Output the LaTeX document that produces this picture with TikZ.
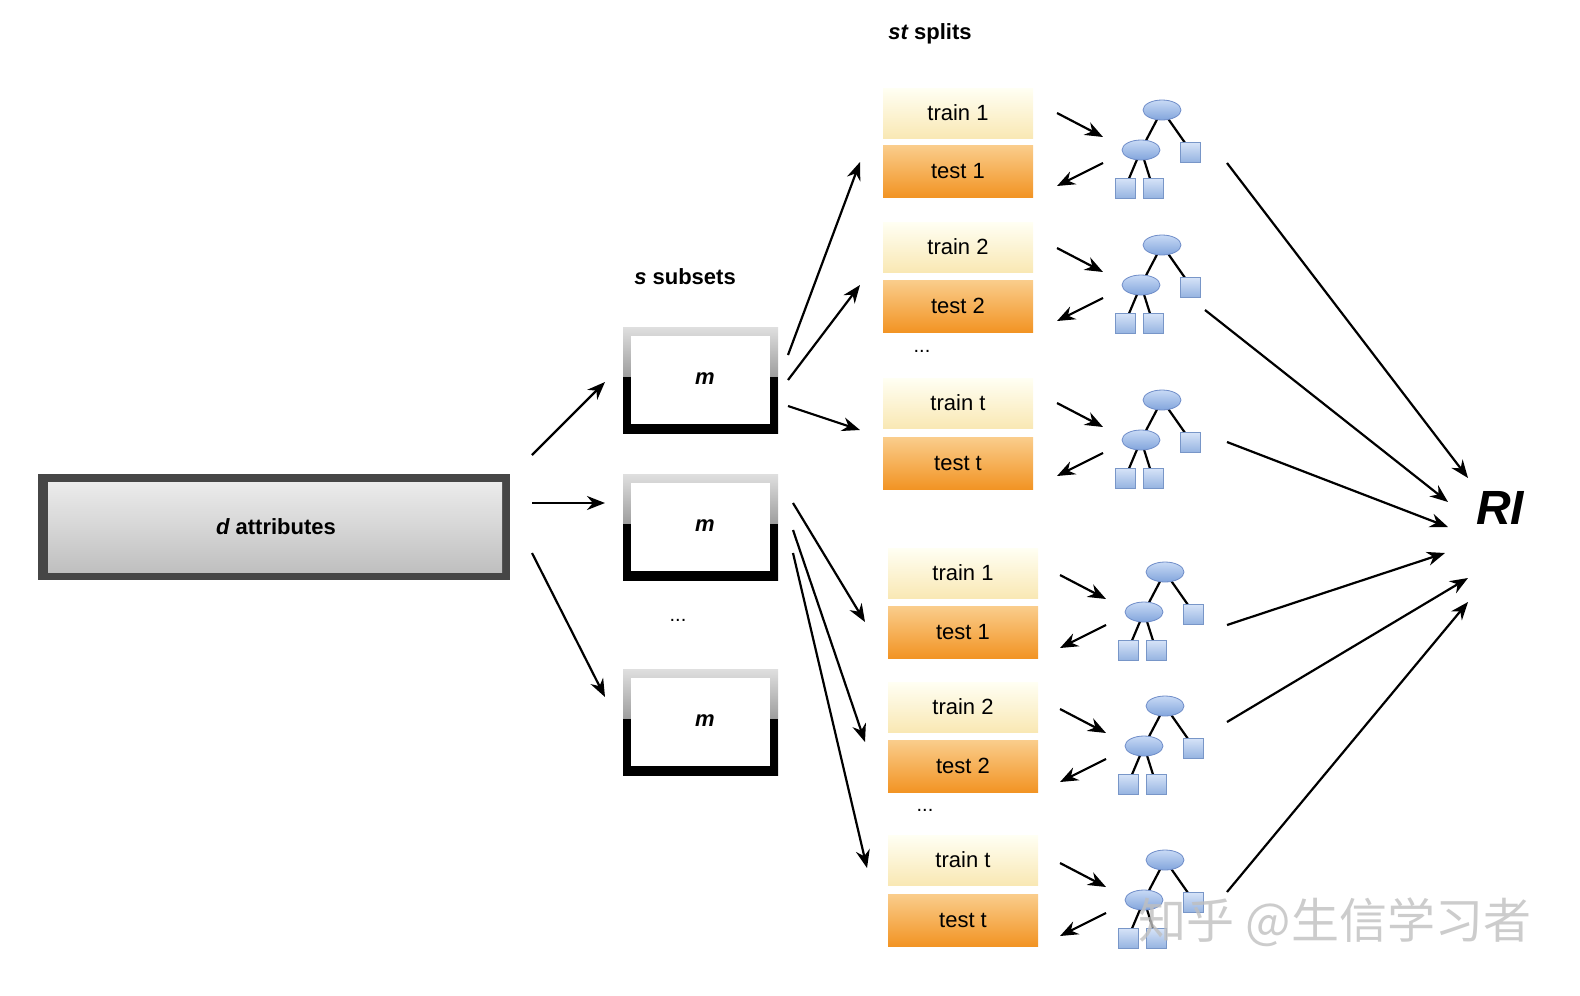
\documentclass[tikz,border=0pt]{standalone}
\usepackage{fontspec}
\setmainfont{Liberation Sans}
\newfontfamily\cjk{Noto Sans CJK SC}
\usetikzlibrary{arrows.meta}
\begin{document}
\begin{tikzpicture}[x=0.5pt,y=-0.5pt,
 arr/.style={-{Stealth[length=9pt,width=7pt]},line width=1.1pt},
 ln/.style={line width=1.1pt},
 trainbox/.style={draw=none,top color=white!70!yellow!15,bottom color={rgb,255:red,249;green,232;blue,180},minimum width=75pt,minimum height=25pt,inner sep=0pt,font=\fontsize{11}{12}\selectfont},
 testbox/.style={draw=none,top color={rgb,255:red,250;green,205;blue,140},bottom color={rgb,255:red,242;green,148;blue,36},minimum width=75pt,minimum height=26pt,inner sep=0pt,font=\fontsize{11}{12}\selectfont},
 leaf/.style={draw={rgb,255:red,120;green,150;blue,200},top color={rgb,255:red,215;green,228;blue,248},bottom color={rgb,255:red,150;green,180;blue,225},minimum size=10pt,inner sep=0pt},
 inode/.style={draw={rgb,255:red,110;green,140;blue,200},shape=ellipse,top color={rgb,255:red,200;green,218;blue,245},bottom color={rgb,255:red,130;green,165;blue,220},minimum width=19pt,minimum height=10pt,inner sep=0pt}]
\useasboundingbox (0,0) rectangle (1580,996);
\usetikzlibrary{shapes.geometric}
% d attributes
\fill[gray!55!black] (38,474) rectangle (510,580);
\shade[top color=gray!15,bottom color=gray!50] (48,482) rectangle (502,572);
\node (d) at (276,527) {\fontsize{11}{12}\selectfont\bfseries\itshape d\upshape\ attributes};
% m boxes
\foreach \y/\n in {327/m1,474/m2,669/m3}{
 \shade[top color=gray!25,bottom color=black,middle color=gray!80] (623,\y) rectangle (778,\y+106);
 \fill[black] (623,\y+50) rectangle (778,\y+106);
 \fill[white] (631,\y+9) rectangle (770,\y+97);
 \node (\n) at (705,\y+52) {\fontsize{11}{12}\selectfont\bfseries\itshape m};
}
\node (ss) at (685,277) {\fontsize{11}{12}\selectfont\bfseries\itshape s\upshape\ subsets};
\node (st) at (930,34) {\fontsize{11}{12}\selectfont\bfseries\itshape st\upshape\ splits};
\node (dt1) at (678,620) {...};
\node (dt2) at (922,351) {...};
\node (dt3) at (925,810) {...};
% splits
\foreach \x/\a/\b/\lab/\n in {958/113/171/1/u1,958/247/306/2/u2,958/403/463/t/u3,963/573/632/1/l1,963/707/766/2/l2,963/860/920/t/l3}{
 \node[trainbox] (tr\n) at (\x,\a) {train \lab};
 \node[testbox] (te\n) at (\x,\b) {test \lab};
}
% trees
\foreach \x/\y/\n in {1162/110/u1,1162/245/u2,1162/400/u3,1165/572/l1,1165/706/l2,1165/860/l3}{
 \coordinate (r\n) at (\x,\y);
 \draw[ln] (\x,\y) -- (\x-21,\y+40) (\x,\y) -- (\x+28,\y+40)
  (\x-21,\y+40) -- (\x-37,\y+78) (\x-21,\y+40) -- (\x-9,\y+78);
 \node[inode] at (\x,\y) {};
 \node[inode] at (\x-21,\y+40) {};
 \node[leaf] at (\x+28,\y+42) {};
 \node[leaf] at (\x-37,\y+78) {};
 \node[leaf] at (\x-9,\y+78) {};
 \draw[arr] (\x-105,\y+3) -- (\x-59,\y+27);
 \draw[arr] (\x-59,\y+53) -- (\x-105,\y+76);
}
\node (RI) at (1500,508) {\fontsize{24}{26}\selectfont\bfseries\itshape RI};
% arrows to RI
\draw[arr] (1227,163) -- (1468,478);
\draw[arr] (1205,310) -- (1448,502);
\draw[arr] (1227,442) -- (1448,527);
\draw[arr] (1227,625) -- (1445,553);
\draw[arr] (1227,722) -- (1468,578);
\draw[arr] (1227,892) -- (1468,602);
% d to m
\draw[arr] (532,455) -- (605,382);
\draw[arr] (532,503) -- (605,503);
\draw[arr] (532,553) -- (605,697);
% m to splits
\draw[arr] (788,355) -- (860,162);
\draw[arr] (788,380) -- (860,285);
\draw[arr] (788,406) -- (860,430);
\draw[arr] (793,503) -- (865,622);
\draw[arr] (793,530) -- (865,742);
\draw[arr] (793,553) -- (867,868);
% watermark
\node[text=gray!50,opacity=0.8] (wm) at (1335,922) {\cjk\fontsize{24}{26}\selectfont 知乎 @生信学习者};
\end{tikzpicture}
\end{document}
